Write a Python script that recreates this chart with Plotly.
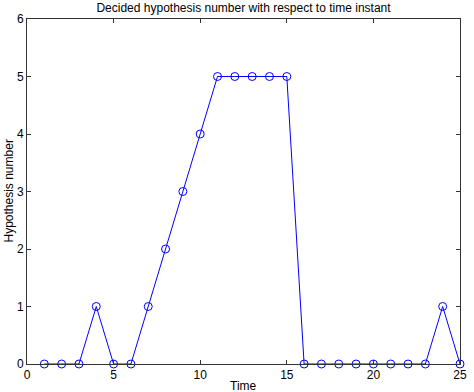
import plotly.graph_objects as go

time = list(range(1, 26))
hypothesis = [0, 0, 0, 1, 0, 0, 1, 2, 3, 4, 5, 5, 5, 5, 5, 0, 0, 0, 0, 0, 0, 0, 0, 1, 0]
x_ticks = [0, 5, 10, 15, 20, 25]
y_ticks = [0, 1, 2, 3, 4, 5, 6]

fig = go.Figure()
fig.add_trace(go.Scatter(
    x=time, y=hypothesis, mode="lines+markers",
    line=dict(color="#0000ff", width=1),
    marker=dict(symbol="circle-open", size=8, color="#0000ff", line=dict(width=1)),
    cliponaxis=False,
))

font = dict(family="Liberation Sans, Arial, sans-serif", size=12, color="black")
axis_common = dict(
    showgrid=False, zeroline=False, showline=True, linecolor="#333333", linewidth=1,
    mirror="ticks", ticks="inside", ticklen=4, tickcolor="#333333", tickfont=font,
)
fig.update_xaxes(range=[0, 25], tickvals=x_ticks, **axis_common)
fig.update_yaxes(range=[0, 6], tickvals=y_ticks, **axis_common)

fig.update_layout(
    width=474, height=392,
    margin=dict(l=27, r=7, t=19, b=28),
    paper_bgcolor="white", plot_bgcolor="white",
    showlegend=False,
    title=dict(text="Decided hypothesis number with respect to time instant",
               x=0.5, xanchor="center", xref="paper",
               y=1 - 8 / 392, yref="container", yanchor="middle", font=font),
    annotations=[
        dict(text="Time", xref="paper", yref="paper", x=0.5, y=0, xanchor="center",
             yanchor="top", yshift=-13, showarrow=False, font=font),
        dict(text="Hypothesis number", xref="paper", yref="paper", x=0, y=0.5,
             xanchor="right", yanchor="middle", xshift=-10, textangle=-90,
             showarrow=False, font=font),
    ],
)

fig.write_html("out.html", config={"displayModeBar": False},
               post_script="document.body.style.margin='0';document.body.style.overflow='hidden';")
